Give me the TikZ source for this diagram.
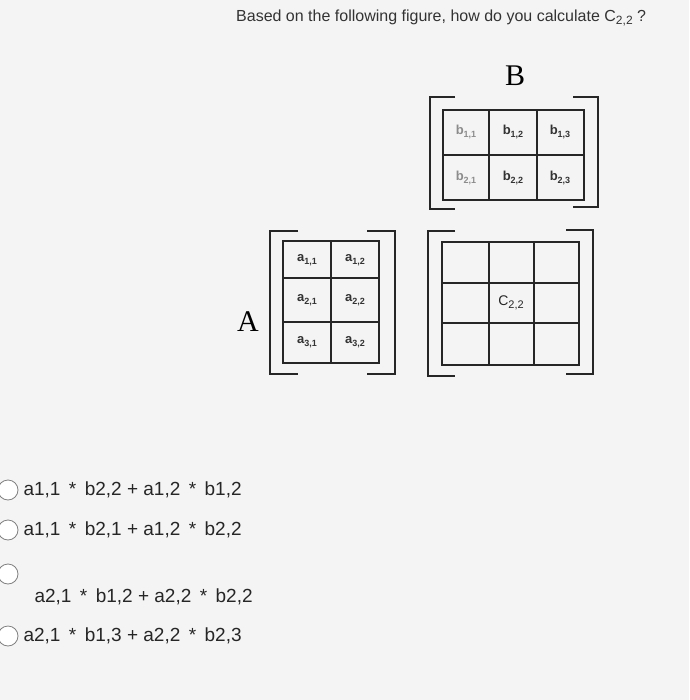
\documentclass[tikz,border=0pt]{standalone}
\usepackage{fontspec}
\setmainfont{Liberation Sans}
\newfontfamily\serifA{Liberation Serif}
\newcommand{\sbs}[1]{\raisebox{-0.35ex}{\fontsize{9}{9}\selectfont #1}}
\begin{document}
\begin{tikzpicture}[x=1pt,y=-1pt,
  grid/.style={line width=1.6pt,draw=black!85},
  brk/.style={line width=2.6pt,draw=black!85},
  cell/.style={font=\fontsize{13}{13}\selectfont\bfseries,text=black!80},
  opt/.style={anchor=west,font=\fontsize{19}{19}\selectfont,text=black!85},
  rad/.style={draw=black!50,line width=0.8pt,fill=white}]
\fill[gray!9] (0,0) rectangle (689,700);
\useasboundingbox (0,0) rectangle (689,700);
\node[anchor=west,font=\fontsize{16}{16}\selectfont,text=black!80,inner sep=0pt] (title) at (236,18) {Based on the following figure, how do you calculate C\sbs{\fontsize{12}{12}\selectfont 2,2} ?};
\node[font=\serifA\fontsize{30}{30}\selectfont] (Bl) at (515,76) {B};
\node[font=\serifA\fontsize{30}{30}\selectfont] (Al) at (248,322) {A};
% B
\draw[grid] (443,110) rectangle (584,200);
\draw[grid] (489,110)--(489,200) (537,110)--(537,200) (443,155)--(584,155);
\draw[brk] (455,97)--(430,97)--(430,209)--(455,209);
\draw[brk] (573,97)--(598,97)--(598,207)--(573,207);
\node[cell,text=black!45] (b11) at (466,132) {b\sbs{1,1}};
\node[cell] (b12) at (513,132) {b\sbs{1,2}};
\node[cell] (b13) at (560,132) {b\sbs{1,3}};
\node[cell,text=black!45] (b21) at (466,178) {b\sbs{2,1}};
\node[cell] (b22) at (513,178) {b\sbs{2,2}};
\node[cell] (b23) at (560,178) {b\sbs{2,3}};
% A
\draw[grid] (283,241) rectangle (379,363);
\draw[grid] (331,241)--(331,363) (283,278)--(379,278) (283,322)--(379,322);
\draw[brk] (298,231)--(270,231)--(270,374)--(298,374);
\draw[brk] (367,231)--(395,231)--(395,374)--(367,374);
\node[cell] (a11) at (307,260) {a\sbs{1,1}};
\node[cell] (a12) at (355,260) {a\sbs{1,2}};
\node[cell] (a21) at (307,300) {a\sbs{2,1}};
\node[cell] (a22) at (355,300) {a\sbs{2,2}};
\node[cell] (a31) at (307,342) {a\sbs{3,1}};
\node[cell] (a32) at (355,342) {a\sbs{3,2}};
% C
\draw[grid] (442,242) rectangle (579,365);
\draw[grid] (489,242)--(489,365) (534,242)--(534,365) (442,283)--(579,283) (442,323)--(579,323);
\draw[brk] (455,231)--(428,231)--(428,376)--(455,376);
\draw[brk] (566,230)--(593,230)--(593,374)--(566,374);
\node[font=\fontsize{14}{14}\selectfont,text=black!85] (c22) at (511,303) {C\sbs{\fontsize{11}{11}\selectfont 2,2}};
% options
\node[rad,circle,minimum size=20pt,inner sep=0pt] (r1) at (8,490) {};
\node[rad,circle,minimum size=20pt,inner sep=0pt] (r2) at (8,530) {};
\node[rad,circle,minimum size=20pt,inner sep=0pt] (r3) at (8,574) {};
\node[rad,circle,minimum size=20pt,inner sep=0pt] (r4) at (8,636) {};
\node[opt] (o1) at (20,490) {a1,1 \,*\, b2,2 + a1,2 \,*\, b1,2};
\node[opt] (o2) at (20,530) {a1,1 \,*\, b2,1 + a1,2 \,*\, b2,2};
\node[opt] (o3) at (31,597) {a2,1 \,*\, b1,2 + a2,2 \,*\, b2,2};
\node[opt] (o4) at (20,636) {a2,1 \,*\, b1,3 + a2,2 \,*\, b2,3};
\end{tikzpicture}
\end{document}
